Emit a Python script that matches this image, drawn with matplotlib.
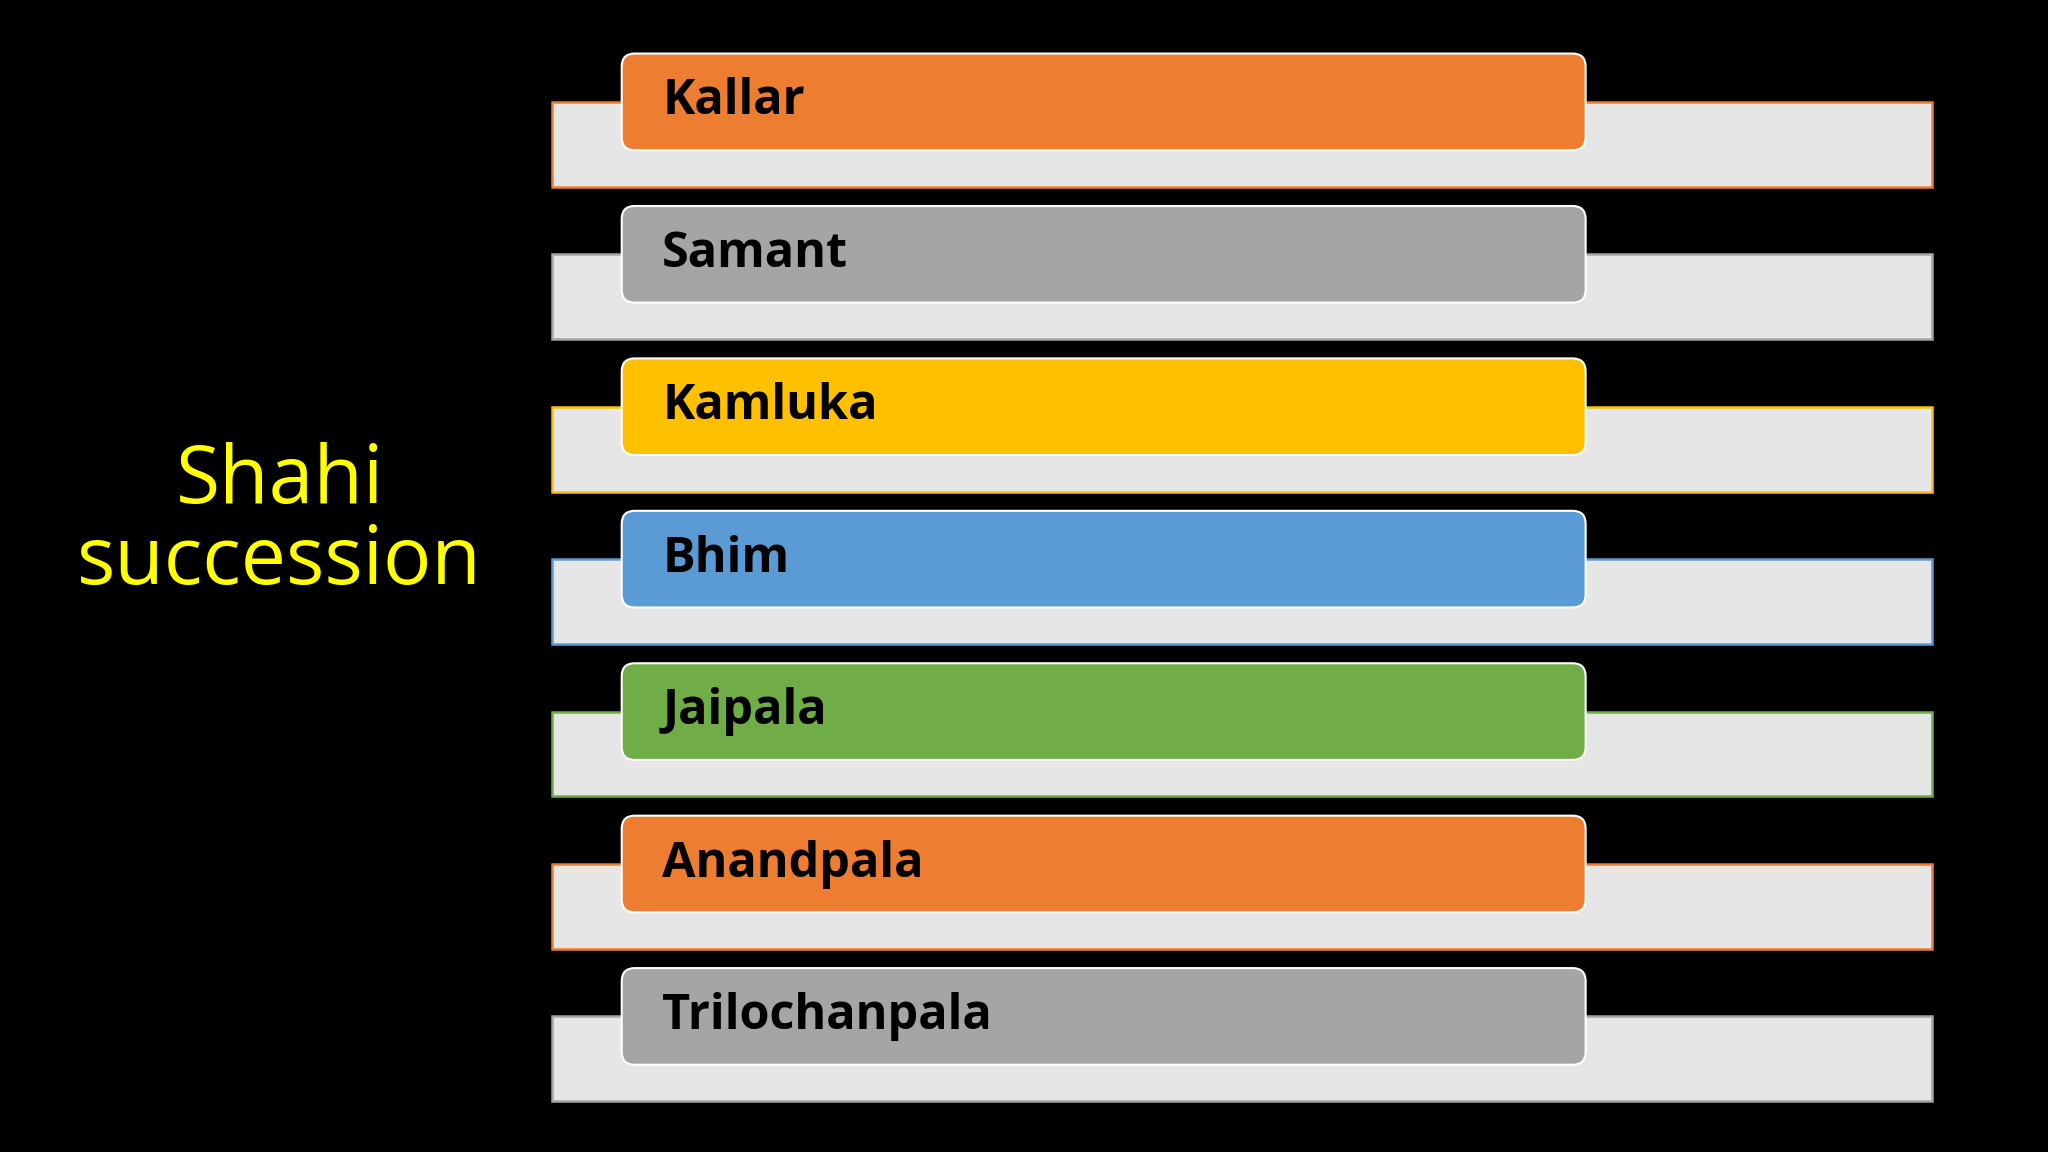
import matplotlib.pyplot as plt
from matplotlib.patches import Rectangle, FancyBboxPatch

# rulers in order of succession
names = ['Kallar', 'Samant', 'Kamluka', 'Bhim', 'Jaipala', 'Anandpala', 'Trilochanpala']
colors = ['#ED7D31', '#A5A5A5', '#FFC000', '#5B9BD5', '#70AD47', '#ED7D31', '#A5A5A5']
title = 'Shahi\nsuccession'

W, H = 1568, 882
fig = plt.figure(figsize=(20.48, 11.52), dpi=100, facecolor='black')
ax = fig.add_axes([0, 0, 1, 1])
ax.set_xlim(0, W)
ax.set_ylim(H, 0)
ax.axis('off')
ax.set_facecolor('black')

step = 116.7
for i, (n, c) in enumerate(zip(names, colors)):
    top = 41 + i * step
    # back strip
    ax.add_patch(Rectangle((423, top + 37), 1056, 65, facecolor='#E6E6E6',
                           edgecolor=c, linewidth=1.8, zorder=1))
    # front rounded box
    ax.add_patch(FancyBboxPatch((476, top), 738, 74,
                                boxstyle='round,pad=0,rounding_size=10',
                                facecolor=c, edgecolor='white', linewidth=1.5, zorder=2))
    ax.text(507, top + 37, n, fontsize=35, fontweight='bold', family='Open Sans',
            color='black', va='center', ha='left', zorder=3)

ax.text(214, 400, title, fontsize=58, color='#FFFF00', family='Open Sans',
        ha='center', va='center', linespacing=1.0)

fig.savefig('out.png', facecolor='black')
